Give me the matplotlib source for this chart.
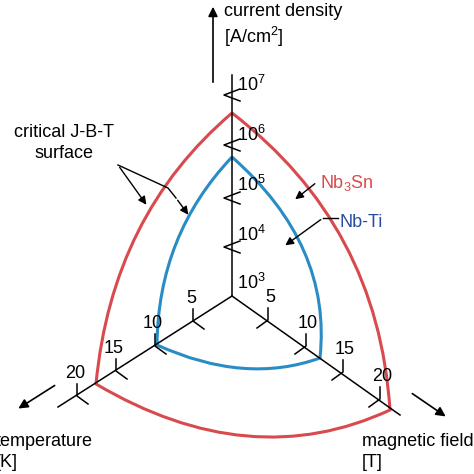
import matplotlib
matplotlib.use('Agg')
import matplotlib.pyplot as plt
from matplotlib.path import Path
from matplotlib.patches import PathPatch

plt.rcParams['font.family'] = ['Liberation Sans', 'DejaVu Sans']
plt.rcParams['mathtext.fontset'] = 'custom'
plt.rcParams['mathtext.rm'] = 'Liberation Sans'
plt.rcParams['mathtext.it'] = 'Liberation Sans'

# Schematic in pixel coordinates (y down)
origin = (232, 296)
j_ticks_y = [95, 145, 198, 247]          # 10^7 .. 10^4
j_labels = ['7', '6', '5', '4', '3']
j_label_y = [85, 135, 185, 235, 283]
t_vals = ['5', '10', '15', '20']
t_ticks = [(193, 321), (155, 346), (116, 371), (77, 396)]
b_vals = ['5', '10', '15', '20']
b_ticks = [(268, 320), (306, 346), (343, 372), (380, 399)]

# closed curves: corner points and quadratic control points
nb3sn_pts = [(232, 113), (96, 384), (390, 410)]
nb3sn_ctrl = [(112, 215), (250, 475), (378, 225)]
nbti_pts = [(232, 157), (157, 345), (320, 358)]
nbti_ctrl = [(158, 235), (245, 385), (332, 245)]

fig = plt.figure(figsize=(4.74, 4.74), dpi=100)
ax = fig.add_axes([0, 0, 1, 1])
ax.set_xlim(0, 474)
ax.set_ylim(474, 0)
ax.axis('off')

def surface(pts, ctrl, color):
    verts, codes = [pts[0]], [Path.MOVETO]
    for i in range(3):
        verts += [ctrl[i], pts[(i + 1) % 3]]
        codes += [Path.CURVE3, Path.CURVE3]
    ax.add_patch(PathPatch(Path(verts, codes), fill=False, ec=color, lw=2.2))

surface(nb3sn_pts, nb3sn_ctrl, '#d94a4f')
surface(nbti_pts, nbti_ctrl, '#2a8cc4')

k = dict(color='black', lw=1.1)
ox, oy = origin
ax.plot([ox, ox], [oy, 75], **k)
ax.plot([ox, 58], [oy, 407], **k)
ax.plot([ox, 400], [oy, 415], **k)
for y in j_ticks_y:
    ax.plot([ox + 8, ox - 8, ox + 8], [y - 6, y, y + 6], **k)
for (x, y), v in zip(t_ticks, t_vals):
    ax.plot([x, x, x + 11], [y - 12, y, y + 8], **k)
    ax.text(x - 2, y - 14, v, ha='center', va='bottom', fontsize=13)
for (x, y), v in zip(b_ticks, b_vals):
    ax.plot([x, x, x - 11], [y - 12, y, y + 8], **k)
    ax.text(x + 2, y - 14, v, ha='center', va='bottom', fontsize=13)
for y, p in zip(j_label_y, j_labels):
    ax.text(ox + 5, y, '10$^{%s}$' % p, ha='left', va='center', fontsize=13)

arr = dict(arrowstyle='-|>', color='black', lw=1.2, mutation_scale=14)
ax.annotate('', xy=(213, 4), xytext=(213, 85), arrowprops=arr)
ax.annotate('', xy=(16, 410), xytext=(57, 384), arrowprops=arr)
ax.annotate('', xy=(448, 418), xytext=(410, 392), arrowprops=arr)

ax.text(224, 26, 'current density\n[A/cm$^2$]', ha='left', va='center', fontsize=13, linespacing=1.3)
ax.text(-4, 452, 'temperature\n[K]', ha='left', va='center', fontsize=13, linespacing=1.3)
ax.text(362, 452, 'magnetic field\n[T]', ha='left', va='center', fontsize=13, linespacing=1.3)
ax.text(64, 143, 'critical J-B-T\nsurface', ha='center', va='center', fontsize=13, linespacing=1.3)
ax.text(320, 183, 'Nb$_3$Sn', color='#d94a4f', ha='left', va='center', fontsize=13)
ax.text(340, 222, 'Nb-Ti', color='#2a4ca0', ha='left', va='center', fontsize=13)

ah = dict(arrowstyle='-|>', color='black', lw=1.0, mutation_scale=12)
ax.annotate('', xy=(148, 207), xytext=(118, 165), arrowprops=ah)
ax.plot([118, 168, 176], [165, 188, 198], color='black', lw=1.0)
ax.annotate('', xy=(190, 217), xytext=(176, 198), arrowprops=ah)
ax.annotate('', xy=(293, 201), xytext=(317, 182), arrowprops=ah)
ax.plot([338, 323], [218, 218], color='black', lw=1.0)
ax.annotate('', xy=(283, 247), xytext=(323, 218), arrowprops=ah)

fig.savefig('out.png', dpi=100)
